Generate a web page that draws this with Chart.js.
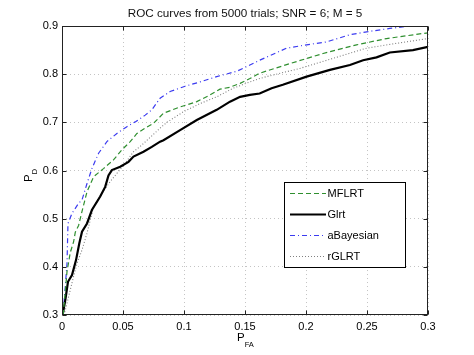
<!DOCTYPE html>
<html>
<head>
<meta charset="utf-8">
<script src="https://cdn.jsdelivr.net/npm/chart.js@4/dist/chart.umd.min.js"></script>
<style>
  html, body { margin: 0; padding: 0; background: #ffffff; }
  #wrap { width: 474px; height: 355px; }
</style>
</head>
<body>
<div id="wrap"><canvas id="c" width="474" height="355"></canvas></div>
<script>
// ---- data ----
const titleText = 'ROC curves from 5000 trials; SNR = 6; M = 5';
const seriesNames = ['MFLRT', 'Glrt', 'aBayesian', 'rGLRT'];

const mflrtX = [0.001,0.0041,0.0068,0.0095,0.0109,0.0136,0.0164,0.0205,0.0259,0.034,0.0422,0.0491,0.0559,0.0614,0.0682,0.075,0.0832,0.0968,0.1105,0.1214,0.1295,0.1377,0.146,0.154,0.162,0.1868,0.214,0.2414,0.266,0.3];
const mflrtY = [0.3,0.39,0.43,0.452,0.472,0.486,0.515,0.556,0.587,0.604,0.622,0.643,0.66,0.677,0.688,0.698,0.719,0.732,0.743,0.757,0.769,0.773,0.781,0.791,0.802,0.822,0.843,0.861,0.874,0.886];

const glrtX = [0.0005,0.0027,0.0049,0.0082,0.0115,0.0142,0.0164,0.0205,0.0245,0.0313,0.0354,0.0381,0.0409,0.0477,0.0545,0.0586,0.0668,0.0736,0.0804,0.0832,0.0968,0.1105,0.1268,0.1377,0.146,0.154,0.162,0.1718,0.181,0.2005,0.2196,0.236,0.2468,0.2578,0.2687,0.2877,0.3];
const glrtY = [0.3,0.331,0.369,0.383,0.414,0.449,0.473,0.49,0.518,0.546,0.566,0.59,0.601,0.608,0.618,0.629,0.639,0.649,0.66,0.663,0.684,0.705,0.726,0.743,0.753,0.757,0.76,0.771,0.778,0.795,0.809,0.819,0.829,0.835,0.845,0.85,0.857];

const bayesX = [0.0008,0.0027,0.0041,0.0049,0.0082,0.0136,0.0164,0.0205,0.0245,0.03,0.0368,0.045,0.0532,0.06,0.0682,0.0736,0.0804,0.0886,0.1009,0.1132,0.1268,0.1432,0.154,0.162,0.184,0.2005,0.2168,0.236,0.2523,0.2687,0.285,0.3];
const bayesY = [0.3,0.359,0.407,0.49,0.511,0.532,0.539,0.573,0.604,0.636,0.66,0.677,0.691,0.701,0.715,0.726,0.75,0.764,0.775,0.784,0.795,0.806,0.819,0.829,0.854,0.861,0.867,0.882,0.889,0.895,0.9,0.905];

const rglrtX = [0.0015,0.0027,0.0054,0.0095,0.0123,0.0164,0.0205,0.0259,0.0327,0.0395,0.0463,0.0518,0.0586,0.0655,0.0736,0.0804,0.0859,0.0995,0.1132,0.1268,0.1404,0.154,0.162,0.1677,0.195,0.2223,0.2495,0.274,0.3];
const rglrtY = [0.3,0.31,0.338,0.38,0.407,0.435,0.47,0.525,0.553,0.577,0.598,0.615,0.639,0.653,0.672,0.688,0.7,0.722,0.739,0.753,0.771,0.784,0.791,0.795,0.812,0.833,0.854,0.864,0.874];

const xTickValues = [0, 0.05, 0.1, 0.15, 0.2, 0.25, 0.3];
const xTickLabels = ['0', '0.05', '0.1', '0.15', '0.2', '0.25', '0.3'];
const yTickValues = [0.3, 0.4, 0.5, 0.6, 0.7, 0.8, 0.9];
const yTickLabels = ['0.3', '0.4', '0.5', '0.6', '0.7', '0.8', '0.9'];

const xLabelMain = 'P', xLabelSub = 'FA';
const yLabelMain = 'P', yLabelSub = 'D';

// ---- build ----
const pts = (xs, ys) => xs.map((x, i) => ({ x: x, y: ys[i] }));
const FONT = '"Liberation Sans", Arial, Helvetica, sans-serif';

const datasets = [
  { label: seriesNames[0], data: pts(mflrtX, mflrtY), borderColor: '#2f8f2f', borderWidth: 1.2, borderDash: [5, 3] },
  { label: seriesNames[1], data: pts(glrtX, glrtY), borderColor: '#000000', borderWidth: 2.2, borderDash: [] },
  { label: seriesNames[2], data: pts(bayesX, bayesY), borderColor: '#3b3bf0', borderWidth: 1.2, borderDash: [5, 3, 1, 3] },
  { label: seriesNames[3], data: pts(rglrtX, rglrtY), borderColor: '#808080', borderWidth: 1.1, borderDash: [1, 2] }
].map(d => Object.assign(d, { pointRadius: 0, fill: false, tension: 0, clip: 0 }));

const framePlugin = {
  id: 'frameAndLabels',
  afterDatasetsDraw(chart) {
    const ctx = chart.ctx, a = chart.chartArea;
    const xs = chart.scales.x, ys = chart.scales.y;
    ctx.save();
    // legend box
    const lx = 284, ly = 182, lw = 122, lh = 86;
    ctx.fillStyle = '#ffffff';
    ctx.fillRect(lx, ly, lw, lh);
    ctx.strokeStyle = '#000000';
    ctx.lineWidth = 1;
    ctx.setLineDash([]);
    ctx.strokeRect(lx + 0.5, ly + 0.5, lw - 1, lh - 1);
    const rows = [193.5, 214.5, 235.5, 256.5];
    chart.data.datasets.forEach((ds, i) => {
      const yy = rows[i];
      ctx.beginPath();
      ctx.strokeStyle = ds.borderColor;
      ctx.lineWidth = ds.borderWidth;
      ctx.setLineDash(ds.borderDash || []);
      ctx.moveTo(290, yy);
      ctx.lineTo(326, yy);
      ctx.stroke();
      ctx.setLineDash([]);
      ctx.fillStyle = '#000000';
      ctx.font = '11px ' + FONT;
      ctx.textBaseline = 'middle';
      ctx.textAlign = 'left';
      ctx.fillText(ds.label, 327.5, yy + 0.5);
    });
    // frame
    ctx.strokeStyle = '#222222';
    ctx.lineWidth = 1;
    const L = Math.round(a.left) + 0.5, R = Math.round(a.right) - 0.5;
    const T = Math.round(a.top) + 0.5, B = Math.round(a.bottom) - 0.5;
    ctx.strokeRect(L, T, R - L, B - T);
    // inward tick marks
    ctx.beginPath();
    xTickValues.forEach(v => {
      const px = Math.round(xs.getPixelForValue(v)) + 0.5;
      ctx.moveTo(px, B); ctx.lineTo(px, B - 4);
      ctx.moveTo(px, T); ctx.lineTo(px, T + 4);
    });
    yTickValues.forEach(v => {
      const py = Math.round(ys.getPixelForValue(v)) + 0.5;
      ctx.moveTo(L, py); ctx.lineTo(L + 4, py);
      ctx.moveTo(R, py); ctx.lineTo(R - 4, py);
    });
    ctx.stroke();
    // axis titles with subscripts
    ctx.fillStyle = '#000000';
    ctx.textAlign = 'left';
    ctx.textBaseline = 'alphabetic';
    ctx.font = '11.5px ' + FONT;
    const wP = ctx.measureText(xLabelMain).width;
    ctx.fillText(xLabelMain, 237, 341);
    ctx.font = '7.5px ' + FONT;
    ctx.fillText(xLabelSub, 237 + wP, 347);
    ctx.translate(31.5, 182);
    ctx.rotate(-Math.PI / 2);
    ctx.font = '11.5px ' + FONT;
    const wPy = ctx.measureText(yLabelMain).width;
    ctx.fillText(yLabelMain, 0, 0);
    ctx.font = '7.5px ' + FONT;
    ctx.fillText(yLabelSub, wPy, 5.5);
    ctx.restore();
  }
};

new Chart(document.getElementById('c'), {
  type: 'line',
  data: { datasets: datasets },
  options: {
    responsive: false,
    animation: false,
    devicePixelRatio: 1,
    layout: { padding: { left: 0, right: 46, top: 0, bottom: 0 } },
    plugins: {
      legend: { display: false },
      tooltip: { enabled: false },
      title: {
        display: true,
        text: titleText,
        fullSize: false,
        color: '#111111',
        font: { family: FONT, size: 11.7, weight: 'normal', lineHeight: 1.2 },
        padding: { top: 7, bottom: 5 }
      }
    },
    scales: {
      x: {
        type: 'linear',
        min: 0, max: 0.3,
        afterBuildTicks: s => { s.ticks = xTickValues.map(v => ({ value: v })); },
        afterFit: s => { s.height = 40; },
        ticks: {
          autoSkip: false, maxRotation: 0, padding: 5, color: '#000000',
          font: { family: FONT, size: 11 },
          callback: (v, i) => xTickLabels[i]
        },
        grid: { color: '#c4c4c4', lineWidth: 1, drawTicks: false },
        border: { display: false, dash: [1, 3] }
      },
      y: {
        type: 'linear',
        min: 0.3, max: 0.9,
        afterBuildTicks: s => { s.ticks = yTickValues.map(v => ({ value: v })); },
        afterFit: s => { s.width = 62; },
        ticks: {
          autoSkip: false, padding: 4, color: '#000000',
          font: { family: FONT, size: 11 },
          callback: (v, i) => yTickLabels[i]
        },
        grid: { color: '#c4c4c4', lineWidth: 1, drawTicks: false },
        border: { display: false, dash: [1, 3] }
      }
    }
  },
  plugins: [framePlugin]
});
</script>
</body>
</html>
